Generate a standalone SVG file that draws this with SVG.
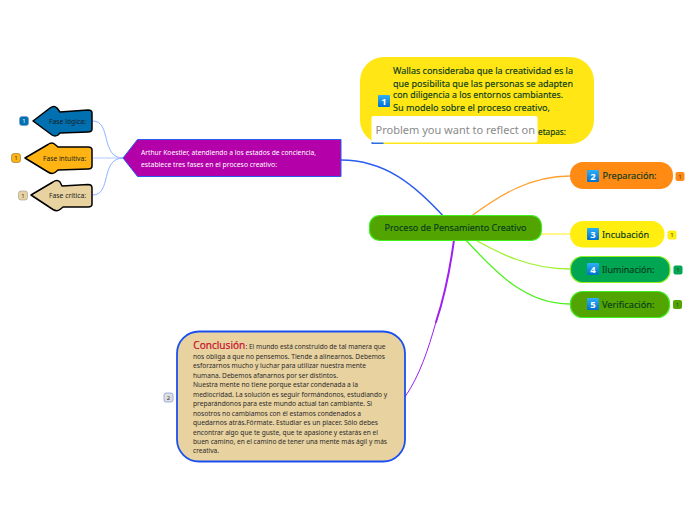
<svg xmlns="http://www.w3.org/2000/svg" width="696" height="520" viewBox="0 0 696 520">
<style>
text{font-family:"Noto Sans","Open Sans","DejaVu Sans",sans-serif}
.c{fill:none;stroke-linecap:round}
.t{font-size:9px;fill:#0a3c1e;stroke:#0a3c1e;stroke-width:.15}
.b{font-size:6px;text-anchor:middle;fill:#333}
.k{font-size:6.8px;fill:#2a2a2a}
.g{font-size:6.700px;fill:#fff}
.f{font-size:6.700px;fill:#1a1a1a}
.n{font-size:9.200px;fill:#0a3c1e;stroke:#0a3c1e;stroke-width:.15}
.i{font-size:9.500px;font-weight:700;fill:#fff;text-anchor:middle}
.a{stroke:#000;stroke-width:1.500;stroke-linejoin:round}
</style>
<defs>
<linearGradient id="ic" x1="0" y1="0" x2="0" y2="1"><stop offset="0" stop-color="#2fb0f5"/><stop offset="1" stop-color="#0070d0"/></linearGradient>
</defs>
<g id="connectors">
<path class="c" d="M341 160C385 160 415 185 445 218" stroke="#2a5cf0" stroke-width="1.500"/>
<path class="c" d="M455 232C451 265 445 295 436 322" stroke="#a020f0" stroke-width="2"/>
<path class="c" d="M436 322C428 350 420 375 405 397" stroke="#a020f0" stroke-width="1"/>
<path class="c" d="M470 217C500 195 530 176 570 176" stroke="#ffa030" stroke-width="1.300"/>
<path class="c" d="M530 234H570" stroke="#ffee20" stroke-width="1.200"/>
<path class="c" d="M472 238C500 254 530 269 570 269" stroke="#a0f030" stroke-width="1.300"/>
<path class="c" d="M464 238C495 272 525 304 570 304" stroke="#50f020" stroke-width="1.300"/>
<path class="c" d="M123 158C100 158 112 121 93 121" stroke="#80a8ff" stroke-width="0.900"/>
<path class="c" d="M123 158H93" stroke="#b0ccff" stroke-width="1.100"/>
<path class="c" d="M123 158C100 158 112 195 93 195" stroke="#80a8ff" stroke-width="0.900"/>
</g>
<g id="n-wallas">
<rect x="360" y="57" width="234" height="87" rx="24" fill="#ffe614"/>
<rect x="378" y="95" width="12" height="12" rx="1" fill="url(#ic)"/><text class="i" x="384" y="104.500">1</text>
<text class="t" x="393" y="74" textLength="180" lengthAdjust="spacingAndGlyphs">Wallas consideraba que la creatividad es la</text>
<text class="t" x="393" y="86.500" textLength="180" lengthAdjust="spacingAndGlyphs">que posibilita que las personas se adapten</text>
<text class="t" x="393" y="98" textLength="170" lengthAdjust="spacingAndGlyphs">con diligencia a los entornos cambiantes.</text>
<text class="t" x="393" y="110.500" textLength="157" lengthAdjust="spacingAndGlyphs">Su modelo sobre el proceso creativo,</text>
<text class="t" x="538" y="135" textLength="28" lengthAdjust="spacingAndGlyphs">etapas:</text>
<rect x="371.500" y="142" width="12" height="2" fill="#2a70e0"/>
<rect x="371.500" y="116" width="166" height="26.500" rx="2" fill="#fff"/>
<text x="375.500" y="134" font-size="11px" fill="#8a8a8a" textLength="159.500" lengthAdjust="spacingAndGlyphs">Problem you want to reflect on</text>
</g>
<g id="n-central">
<rect x="369.500" y="215.500" width="172" height="25" rx="10" fill="#52a500" stroke="#40f020" stroke-width="1.200"/>
<text class="t" x="384.500" y="231" textLength="142" lengthAdjust="spacingAndGlyphs">Proceso de Pensamiento Creativo</text>
</g>
<g id="n-prep">
<rect x="570" y="162" width="103" height="27" rx="13" fill="#ff8a14"/>
<rect x="587" y="170" width="12" height="12" rx="1" fill="url(#ic)"/><text class="i" x="593" y="179.500">2</text>
<text class="n" x="602.500" y="179" textLength="54" lengthAdjust="spacingAndGlyphs">Preparación:</text>
<rect x="675.500" y="172" width="9" height="9" rx="2" fill="#ff8a14"/><text class="b" x="680" y="178.500">1</text>
</g>
<g id="n-incu">
<rect x="570" y="221" width="94.500" height="26.500" rx="13" fill="#ffee10"/>
<rect x="587" y="228" width="12" height="12" rx="1" fill="url(#ic)"/><text class="i" x="593" y="237.500">3</text>
<text class="n" x="602" y="238" textLength="47" lengthAdjust="spacingAndGlyphs">Incubación</text>
<rect x="667.500" y="230.500" width="9" height="9" rx="2" fill="#ffee10"/><text class="b" x="672" y="237">1</text>
</g>
<g id="n-ilum">
<rect x="570.500" y="256.500" width="99.500" height="26" rx="12" fill="#00a651" stroke="#90f020" stroke-width="1.200"/>
<rect x="587" y="263" width="12" height="12" rx="1" fill="url(#ic)"/><text class="i" x="593" y="272.500">4</text>
<text class="n" x="602" y="273" textLength="52.500" lengthAdjust="spacingAndGlyphs">Iluminación:</text>
<rect x="673.500" y="265.500" width="9" height="9" rx="2" fill="#00a651"/><text class="b" x="678" y="272">1</text>
</g>
<g id="n-veri">
<rect x="570.500" y="291.500" width="99" height="26" rx="12" fill="#52a500" stroke="#40f020" stroke-width="1.200"/>
<rect x="587" y="298" width="12" height="12" rx="1" fill="url(#ic)"/><text class="i" x="593" y="307.500">5</text>
<text class="n" x="602" y="308" textLength="52.500" lengthAdjust="spacingAndGlyphs">Verificación:</text>
<rect x="673" y="300" width="9" height="9" rx="2" fill="#52a500"/><text class="b" x="677.500" y="306.500">1</text>
</g>
<g id="n-koestler">
<path d="M123 158L137.500 139.500H341V176.500H137.500Z" fill="#b400a8" stroke="#2a5cf0" stroke-width="1"/>
<text class="g" x="141" y="155" textLength="175" lengthAdjust="spacingAndGlyphs">Arthur Koestler, atendiendo a los estados de conciencia,</text>
<text class="g" x="141" y="167" textLength="136" lengthAdjust="spacingAndGlyphs">establece tres fases en el proceso creativo:</text>
</g>
<g id="n-logica">
<path class="a" d="M33 121L50 108Q54 105 57 108L60 112L88 110Q92 110 92 113V129Q92 132 88 132L60 133L58 135Q55 137 52 135Z" fill="#0070b0"/>
<text class="f" x="49" y="124" textLength="37" lengthAdjust="spacingAndGlyphs">Fase lógica:</text>
<rect x="19.500" y="116.500" width="9" height="9" rx="2.500" fill="#0070b0" stroke="#6a98c0" stroke-width=".6"/><text class="b" x="24" y="123" style="fill:#fff">1</text>
</g>
<g id="n-intuitiva">
<path class="a" d="M25 158L48 144.500Q52 141.500 55 144.500L58 147L88 147Q92 147 92 150V166Q92 169 88 169L58 170L55 172.500Q52 174.500 48 172Z" fill="#ffb414"/>
<text class="f" x="43" y="161" textLength="43" lengthAdjust="spacingAndGlyphs">Fase intuitiva:</text>
<rect x="11.500" y="153.500" width="9" height="9" rx="2.500" fill="#ffb414" stroke="#8a7030" stroke-width=".6"/><text class="b" x="16" y="160">1</text>
</g>
<g id="n-critica">
<path class="a" d="M31 195L53 182Q57 179 60 182L62 186L88 184.500Q92 184.500 92 188V204Q92 207 88 207L63 207L60 209.500Q57 212 53 209.500Z" fill="#e8d2a0"/>
<text class="f" x="49" y="198" textLength="37" lengthAdjust="spacingAndGlyphs">Fase crítica:</text>
<rect x="18.500" y="191" width="9" height="9" rx="2.500" fill="#e8d2a0" stroke="#999" stroke-width=".6"/><text class="b" x="23" y="197.500">1</text>
</g>
<g id="n-conclusion">
<rect x="177" y="331.500" width="228" height="130" rx="22" fill="#e8d2a0" stroke="#1a50f0" stroke-width="1.800"/>
<text x="193.300" y="349" font-size="10.500" fill="#c8102e" stroke="#c8102e" stroke-width=".2" textLength="52" lengthAdjust="spacingAndGlyphs">Conclusión</text>
<text class="k" x="245.500" y="349" textLength="140" lengthAdjust="spacingAndGlyphs">: El mundo está construido de tal manera que</text>
<text class="k" x="193" y="358.500" textLength="192" lengthAdjust="spacingAndGlyphs">nos obliga a que no pensemos. Tiende a alinearnos. Debemos</text>
<text class="k" x="193" y="368" textLength="173" lengthAdjust="spacingAndGlyphs">esforzarnos mucho y luchar para utilizar nuestra mente</text>
<text class="k" x="193" y="378" textLength="145" lengthAdjust="spacingAndGlyphs">humana. Debemos afanarnos por ser distintos.</text>
<text class="k" x="193" y="387" textLength="165" lengthAdjust="spacingAndGlyphs">Nuestra mente no tiene porque estar condenada a la</text>
<text class="k" x="193" y="397" textLength="194" lengthAdjust="spacingAndGlyphs">mediocridad. La solución es seguir formándonos, estudiando y</text>
<text class="k" x="193" y="406" textLength="179" lengthAdjust="spacingAndGlyphs">preparándonos para este mundo actual tan cambiante. Si</text>
<text class="k" x="193" y="416" textLength="168" lengthAdjust="spacingAndGlyphs">nosotros no cambiamos con él estamos condenados a</text>
<text class="k" x="193" y="425" textLength="185" lengthAdjust="spacingAndGlyphs">quedarnos atrás.Fórmate. Estudiar es un placer. Sólo debes</text>
<text class="k" x="193" y="434.500" textLength="185" lengthAdjust="spacingAndGlyphs">encontrar algo que te guste, que te apasione y estarás en el</text>
<text class="k" x="193" y="444" textLength="194" lengthAdjust="spacingAndGlyphs">buen camino, en el camino de tener una mente más ágil y más</text>
<text class="k" x="193" y="453" textLength="26" lengthAdjust="spacingAndGlyphs">creativa.</text>
<rect x="164" y="393" width="9" height="9" rx="2" fill="#e0e0e0" stroke="#88a0e0" stroke-width=".8"/><text class="b" x="168.500" y="399.500">2</text>
</g>
</svg>
